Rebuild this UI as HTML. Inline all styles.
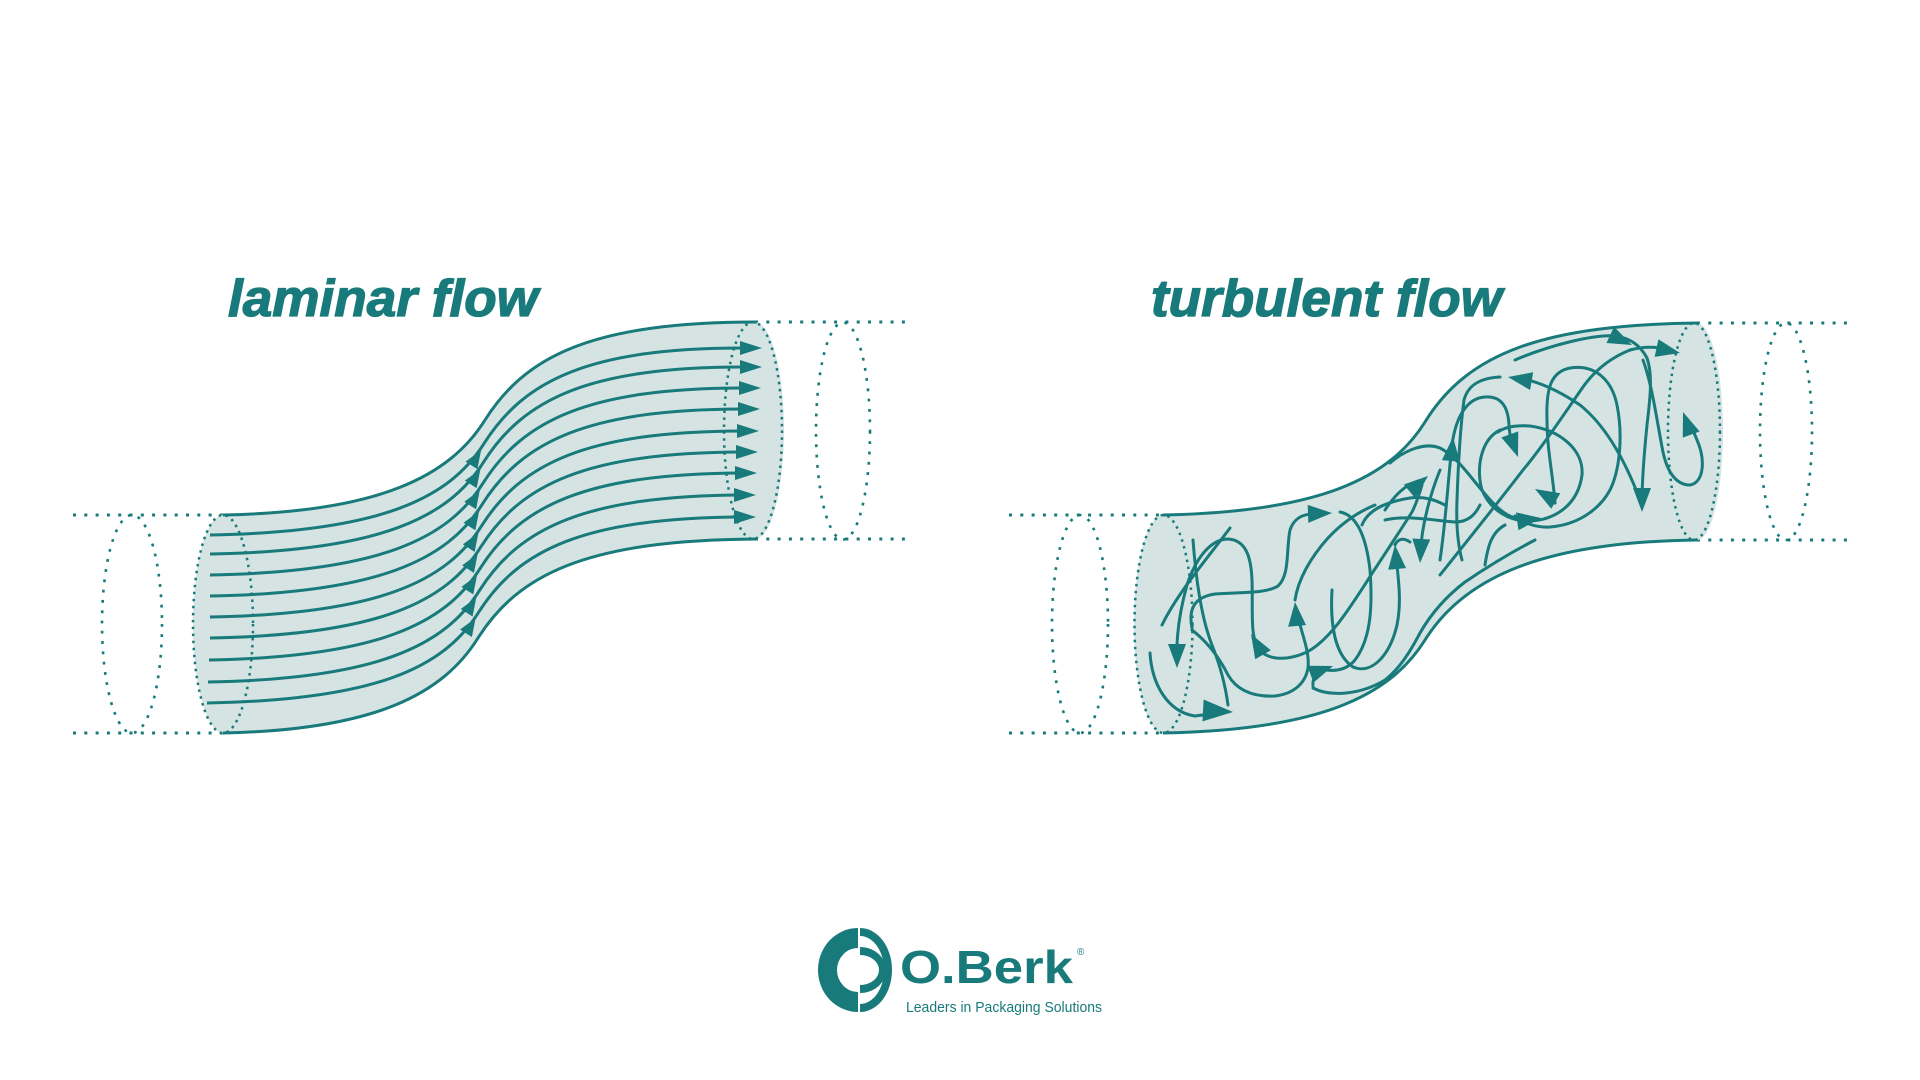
<!DOCTYPE html>
<html>
<head>
<meta charset="utf-8">
<style>
html,body{margin:0;padding:0;background:#fff;}
svg{display:block;}
</style>
</head>
<body>
<svg width="1920" height="1080" viewBox="0 0 1920 1080" xmlns="http://www.w3.org/2000/svg">
<rect width="1920" height="1080" fill="#ffffff"/>

<!-- Titles -->
<text x="228" y="316" font-family="Liberation Sans, Arial, sans-serif" font-size="52" font-weight="bold" font-style="italic" fill="#187a7a" stroke="#187a7a" stroke-width="1.3" textLength="310" lengthAdjust="spacingAndGlyphs">laminar flow</text>
<text x="1151" y="316" font-family="Liberation Sans, Arial, sans-serif" font-size="52" font-weight="bold" font-style="italic" fill="#187a7a" stroke="#187a7a" stroke-width="1.3" textLength="351" lengthAdjust="spacingAndGlyphs">turbulent flow</text>

<!-- ============ LAMINAR ============ -->
<g fill="none" stroke="#187a7a">
  <g stroke-width="3" stroke-dasharray="3 8.3">
    <line x1="73" y1="515" x2="223" y2="515"/>
    <line x1="73" y1="733" x2="223" y2="733"/>
    <line x1="755" y1="322" x2="910" y2="322"/>
    <line x1="755" y1="539" x2="910" y2="539"/>
  </g>
  <g stroke-width="2.6" stroke-dasharray="2.8 7.5">
    <ellipse cx="132" cy="624" rx="30" ry="109"/>
    <ellipse cx="843" cy="431" rx="27" ry="108.5"/>
  </g>
</g>
<path d="M223,515 C380,512 450,476 485,420 C525,357 590,322 755,322 A29,108.5 0 0 1 755,539 C585,540 518,575 478,638 C443,694 375,730 223,733 A30,109 0 0 1 223,515 Z" fill="#d5e3e3"/>
<g fill="none" stroke="#187a7a" stroke-width="3">
  <path d="M223,515 C380,512 450,476 485,420 C525,357 590,322 757,322"/>
  <path d="M223,733 C375,730 443,694 478,638 C518,575 585,540 757,539"/>
</g>
<g fill="none" stroke="#187a7a" stroke-width="2.5" stroke-dasharray="2.5 4.5">
  <ellipse cx="223" cy="624" rx="30" ry="109"/>
  <ellipse cx="753" cy="430.5" rx="29" ry="108.5"/>
</g>
<g fill="none" stroke="#187a7a" stroke-width="3">
  <path d="M210,535 C379.5,532 449.3,499.1 484.3,443.1 C524.3,380.1 589.4,348.1 742,348"/>
  <path d="M210,554 C379.1,551 448.6,518.1 483.6,462.1 C523.6,399.1 589,367.2 742,367"/>
  <path d="M210,575 C378.6,572 448,539.2 483,483.2 C523,420.2 588.5,388.3 742,388"/>
  <path d="M210,596 C378.1,593 447.3,560.2 482.3,504.2 C522.3,441.2 588,409.4 742,409"/>
  <path d="M210,617 C377.7,614 446.6,581.8 481.6,525.8 C521.6,462.8 587.5,431.5 742,431"/>
  <path d="M210,638 C377.2,635 445.9,602.8 480.9,546.8 C520.9,483.8 587,452.6 742,452"/>
  <path d="M209,660 C376.7,657 445.2,624.3 480.2,568.3 C520.2,505.3 586.5,473.7 742,473"/>
  <path d="M208,682 C376.2,679 444.5,646.4 479.5,590.4 C519.5,527.4 586,495.8 742,495"/>
  <path d="M207,703 C375.7,700 443.8,668 478.8,612 C518.8,549 585.5,517.9 742,517"/>
</g>
<g fill="#187a7a">
  <polygon points="0,0 -18,-7 -18,7" transform="translate(481.1,450.2) rotate(-57.6)"/>
  <polygon points="0,0 -18,-7 -18,7" transform="translate(480.4,469.2) rotate(-57.6)"/>
  <polygon points="0,0 -18,-7 -18,7" transform="translate(479.8,490.3) rotate(-57.6)"/>
  <polygon points="0,0 -18,-7 -18,7" transform="translate(479.1,511.3) rotate(-57.6)"/>
  <polygon points="0,0 -18,-7 -18,7" transform="translate(478.4,532.9) rotate(-57.6)"/>
  <polygon points="0,0 -18,-7 -18,7" transform="translate(477.7,553.9) rotate(-57.6)"/>
  <polygon points="0,0 -18,-7 -18,7" transform="translate(477,575.4) rotate(-57.6)"/>
  <polygon points="0,0 -18,-7 -18,7" transform="translate(476.3,597.5) rotate(-57.6)"/>
  <polygon points="0,0 -18,-7 -18,7" transform="translate(475.6,618.1) rotate(-57.6)"/>
  <polygon points="0,0 -22,-7 -22,7" transform="translate(762,348)"/>
  <polygon points="0,0 -22,-7 -22,7" transform="translate(762,367)"/>
  <polygon points="0,0 -22,-7 -22,7" transform="translate(761,388)"/>
  <polygon points="0,0 -22,-7 -22,7" transform="translate(760,409)"/>
  <polygon points="0,0 -22,-7 -22,7" transform="translate(759,431)"/>
  <polygon points="0,0 -22,-7 -22,7" transform="translate(758,452)"/>
  <polygon points="0,0 -22,-7 -22,7" transform="translate(757,473)"/>
  <polygon points="0,0 -22,-7 -22,7" transform="translate(756,495)"/>
  <polygon points="0,0 -22,-7 -22,7" transform="translate(756,517)"/>
</g>

<!-- ============ TURBULENT ============ -->
<g fill="none" stroke="#187a7a">
  <g stroke-width="3" stroke-dasharray="3 8.3">
    <line x1="1009" y1="515" x2="1163" y2="515"/>
    <line x1="1009" y1="733" x2="1163" y2="733"/>
    <line x1="1697" y1="323" x2="1852" y2="323"/>
    <line x1="1697" y1="540" x2="1852" y2="540"/>
  </g>
  <g stroke-width="2.6" stroke-dasharray="2.8 7.5">
    <ellipse cx="1080" cy="624" rx="28" ry="109"/>
    <ellipse cx="1786" cy="431.5" rx="26" ry="108.5"/>
  </g>
</g>
<path d="M1163,515 C1320,512 1390,478 1425,422 C1468,352 1545,325 1697,323 A26,108.5 0 0 1 1697,540 C1545,542 1465,576 1425,640 C1390,696 1320,730 1163,733 A29,109 0 0 1 1163,515 Z" fill="#d5e3e3"/>
<g fill="none" stroke="#187a7a" stroke-width="3">
  <path d="M1163,515 C1320,512 1390,478 1425,422 C1468,352 1545,325 1697,323"/>
  <path d="M1163,733 C1320,730 1390,696 1425,640 C1465,576 1545,542 1697,540"/>
</g>
<g fill="none" stroke="#187a7a" stroke-width="2.5" stroke-dasharray="2.5 4.5">
  <ellipse cx="1163.5" cy="624" rx="29" ry="109"/>
  <ellipse cx="1694" cy="431.5" rx="26" ry="108.5"/>
</g>

<g fill="none" stroke="#187a7a" stroke-width="3" stroke-linecap="round">
  <!-- left region -->
  <path d="M1230,528 C1210,555 1178,592 1162,625"/>
  <path d="M1150,653 C1152,685 1168,712 1195,716 L1210,714"/>
  <path d="M1307,652 C1290,660 1268,662 1258,648 C1250,635 1253,610 1252,580 C1251,555 1245,540 1228,539 C1210,539 1195,560 1187,585 C1180,610 1176,635 1177,660"/>
  <path d="M1307,652 C1330,640 1350,608 1373,572 C1390,546 1402,528 1412,512 C1417,502 1420,492 1422,485"/>
  <path d="M1193,540 C1196,580 1202,620 1212,645 C1222,670 1226,690 1228,705"/>
  <path d="M1192,628 C1188,608 1195,597 1215,594 C1240,592 1265,594 1278,586 C1290,575 1286,550 1290,530 C1294,518 1303,513 1318,514"/>
  <path d="M1192,630 C1205,640 1218,655 1228,675 C1238,692 1255,697 1275,696 C1292,694 1305,685 1308,668 C1310,650 1300,630 1297,612"/>
  <path d="M1340,512 C1356,515 1366,535 1370,570 C1373,610 1370,640 1355,660 C1345,672 1330,672 1318,668"/>
  <path d="M1313,688 C1330,697 1360,695 1385,680 C1400,668 1410,652 1420,633 C1432,612 1448,595 1465,582 C1490,565 1510,553 1535,540"/>
  <path d="M1313,686 C1312,678 1318,671 1322,670"/>
  <path d="M1332,590 C1330,625 1335,655 1353,667 C1372,675 1390,655 1397,625 C1402,600 1398,578 1396,555"/>
  <path d="M1395,545 C1398,538 1404,538 1410,542"/>
  <path d="M1362,525 C1368,510 1385,502 1410,498 C1425,496 1435,500 1445,505"/>
  <path d="M1295,600 C1298,580 1310,558 1328,538 C1342,523 1358,512 1375,505"/>
  <path d="M1440,470 C1430,495 1422,525 1420,555"/>
  <!-- right region -->
  <path d="M1515,360 C1550,345 1595,334 1615,336 C1630,338 1640,345 1647,358 C1653,375 1650,400 1647,425 C1644,455 1642,480 1642,502"/>
  <path d="M1640,500 C1625,460 1605,425 1580,405 C1558,390 1535,380 1517,378"/>
  <path d="M1500,377 C1480,378 1468,385 1464,400 C1460,430 1458,470 1457,500 C1456,525 1458,545 1462,560"/>
  <path d="M1440,560 C1446,520 1448,480 1452,445 C1456,415 1468,398 1485,397 C1500,396 1508,405 1509,425 C1510,440 1513,448 1515,450"/>
  <path d="M1500,430 C1480,440 1476,470 1482,490 C1490,510 1510,522 1530,521 C1555,520 1578,505 1582,475 C1584,450 1560,430 1530,426 C1515,425 1505,427 1498,432"/>
  <path d="M1555,503 C1553,475 1547,450 1547,420 C1546,390 1550,372 1570,368 C1595,364 1612,380 1617,405 C1623,435 1620,470 1610,490 C1598,512 1575,525 1550,527 C1535,528 1522,522 1515,516"/>
  <path d="M1555,503 C1548,497 1544,494 1541,492"/>
  <path d="M1440,575 C1460,550 1500,500 1523,470 C1540,450 1560,420 1583,387 C1595,370 1610,358 1630,350 C1645,346 1655,347 1665,349"/>
  <path d="M1643,360 C1652,385 1656,415 1662,447 C1666,470 1675,485 1690,485 C1705,482 1705,458 1697,440 C1693,430 1689,422 1687,419"/>
  <path d="M1390,463 C1405,450 1425,442 1440,448 C1460,458 1475,485 1495,505 C1505,515 1515,520 1528,520"/>
  <path d="M1385,510 C1395,495 1405,485 1418,481"/>
  <path d="M1385,520 C1405,515 1430,520 1455,522 C1468,522 1475,515 1480,505"/>
  <path d="M1485,565 C1488,545 1492,532 1505,525"/>
</g>
<g fill="#187a7a">
  <polygon points="0,0 -24,-9 -24,9" transform="translate(1332,513) rotate(-2)"/>
  <polygon points="0,0 -24,-9 -24,9" transform="translate(1177,668) rotate(90)"/>
  <polygon points="0,0 -30,-11 -30,11" transform="translate(1233,712) rotate(3)"/>
  <polygon points="0,0 -24,-9 -24,9" transform="translate(1251,634) rotate(-120)"/>
  <polygon points="0,0 -24,-9 -24,9" transform="translate(1295,602) rotate(-95)"/>
  <polygon points="0,0 -24,-9 -24,9" transform="translate(1333,666) rotate(-20)"/>
  <polygon points="0,0 -24,-9 -24,9" transform="translate(1395,545) rotate(-95)"/>
  <polygon points="0,0 -24,-9 -24,9" transform="translate(1420,563) rotate(93)"/>
  <polygon points="0,0 -24,-9 -24,9" transform="translate(1428,476) rotate(-40)"/>
  <polygon points="0,0 -24,-9 -24,9" transform="translate(1632,345) rotate(25)"/>
  <polygon points="0,0 -24,-9 -24,9" transform="translate(1680,353) rotate(12)"/>
  <polygon points="0,0 -24,-9 -24,9" transform="translate(1508,377) rotate(-170)"/>
  <polygon points="0,0 -24,-9 -24,9" transform="translate(1453,437) rotate(-85)"/>
  <polygon points="0,0 -24,-9 -24,9" transform="translate(1518,457) rotate(70)"/>
  <polygon points="0,0 -24,-9 -24,9" transform="translate(1535,489) rotate(-150)"/>
  <polygon points="0,0 -24,-9 -24,9" transform="translate(1541,518) rotate(-8)"/>
  <polygon points="0,0 -24,-9 -24,9" transform="translate(1642,512) rotate(90)"/>
  <polygon points="0,0 -24,-9 -24,9" transform="translate(1683,412) rotate(-110)"/>
</g>

<!-- ============ LOGO ============ -->
<g fill="#187a7a" fill-rule="evenodd">
  <path d="M858,928 A40,42 0 0 0 858,1012 L858,992 A21,22 0 0 1 858,948 Z"/>
  <path d="M860,928 A32,42 0 0 1 860,1012 L860,1004 A24,34 0 0 0 860,936 Z"/>
  <path d="M860,947 A26,23 0 0 1 860,993 L860,985 A19,15 0 0 0 860,955 Z"/>
</g>
<text x="900" y="983" font-family="Liberation Sans, Arial, sans-serif" font-size="46" font-weight="bold" fill="#187a7a" textLength="173" lengthAdjust="spacingAndGlyphs">O.Berk</text>
<text x="1077" y="955" font-family="Liberation Sans, Arial, sans-serif" font-size="10" fill="#187a7a">®</text>
<text x="906" y="1012" font-family="Liberation Sans, Arial, sans-serif" font-size="15" fill="#187a7a" textLength="196" lengthAdjust="spacingAndGlyphs">Leaders in Packaging Solutions</text>
</svg>
</body>
</html>
